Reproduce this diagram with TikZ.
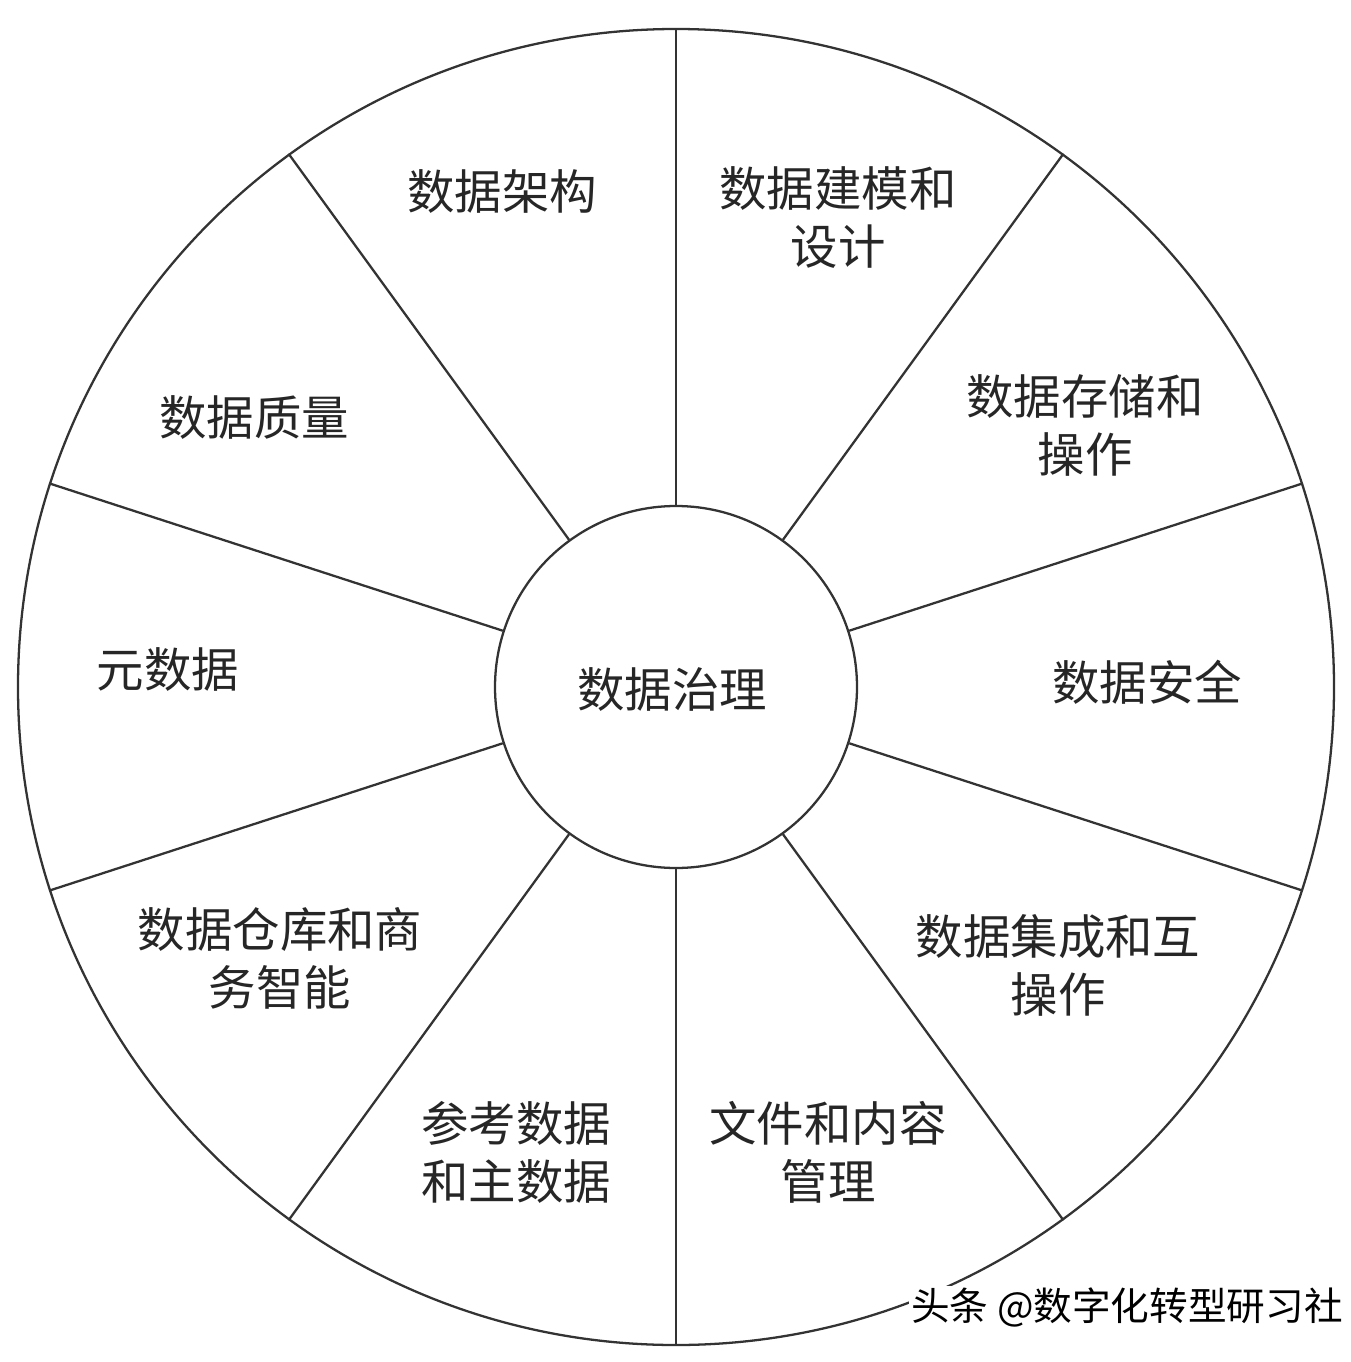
\documentclass[tikz,border=0pt]{standalone}
\usepackage{fontspec}
\setmainfont{Noto Sans CJK SC}
\begin{document}
\begin{tikzpicture}[x=0.02cm,y=-0.02cm,
  lbl/.style={font=\fontsize{27}{33}\selectfont, align=center, text=black!85},
  ln/.style={draw=black!80, line width=1.3pt}]
\useasboundingbox (0,0) rectangle (1350,1362);
\coordinate (c) at (676,687);
\node[ln, circle, minimum size=362*0.02cm, inner sep=0pt] (inner) at (c) {};
\node[ln, circle, minimum size=1316*0.02cm, inner sep=0pt] (outer) at (c) {};
\foreach \a in {90,54,18,-18,-54,-90,-126,-162,162,126}
  \draw[ln] (inner.\a) -- (outer.\a);
\node[lbl] (t0) at (672,690) {数据治理};
\node[lbl] (t1) at (502,192) {数据架构};
\node[lbl] (t2) at (838,218) {数据建模和\\设计};
\node[lbl] (t3) at (1085,425) {数据存储和\\操作};
\node[lbl] (t4) at (1147,682) {数据安全};
\node[lbl] (t5) at (1058,965) {数据集成和互\\操作};
\node[lbl] (t6) at (828,1152) {文件和内容\\管理};
\node[lbl] (t7) at (516,1152) {参考数据\\和主数据};
\node[lbl] (t8) at (280,958) {数据仓库和商\\务智能};
\node[lbl] (t9) at (168,670) {元数据};
\node[lbl] (t10) at (254,418) {数据质量};
\node[font=\fontsize{22}{26}\selectfont, text=black, fill=white, inner sep=1pt] (wm) at (1127,1307) {头条 @数字化转型研习社};
\end{tikzpicture}
\end{document}
